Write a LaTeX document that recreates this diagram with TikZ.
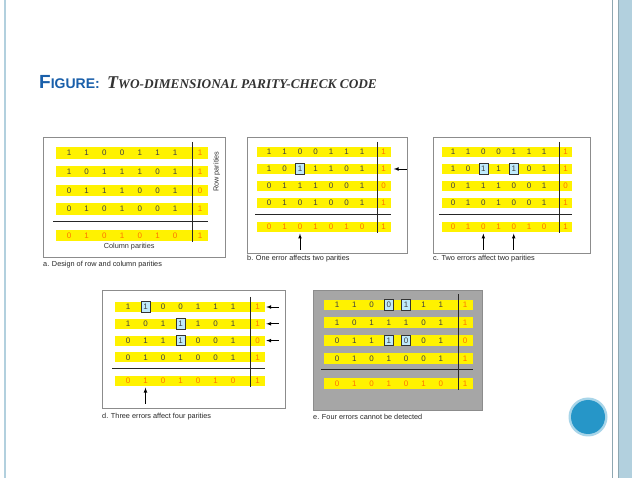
\documentclass[tikz,border=0pt]{standalone}
\usepackage{fontspec}
\setmainfont{Liberation Sans}
\newfontfamily\serifit{Liberation Serif}
\definecolor{band}{RGB}{178,208,222}
\definecolor{dot}{RGB}{38,150,200}
\definecolor{bar}{RGB}{255,242,0}
\begin{document}
\begin{tikzpicture}[x=1pt,y=-1pt,
  bitn/.style={inner sep=0pt,font=\fontsize{8}{9}\selectfont,text=black!75},
  pbitn/.style={bitn,text=orange!90!red},
  hl/.style={draw=black!80,fill=cyan!25,line width=0.7pt,minimum width=9pt,minimum height=10.5pt,inner sep=0pt,font=\fontsize{8}{9}\selectfont,text=black!75},
  captxt/.style={anchor=west,inner sep=0pt,font=\fontsize{7.3}{8}\selectfont,text=black!85},
  panel/.style={draw=black!45,line width=0.6pt},
  arr/.style={-latex,line width=0.7pt}]
\useasboundingbox (0,0) rectangle (638,478);
\fill[white] (0,0) rectangle (638,478);
% frame
\draw[band,line width=1.2pt] (5,0) -- (5,478);
\fill[band] (618,0) rectangle (632,478);
\draw[band!80!black,line width=0.8pt] (612,0) -- (612,478);
\draw[band!80!black,line width=0.6pt] (618,0) -- (618,478);
\fill[dot!40!white] (588,417) circle (19.5);
\fill[dot] (588,417) circle (17);
% title
\node[anchor=base west,inner sep=0pt,text={rgb,255:red,25;green,95;blue,170}] (t1) at (39,89)
  {\bfseries\fontsize{19}{20}\selectfont F\fontsize{14}{15}\selectfont IGURE:};
\node[anchor=base west,inner sep=0pt,text=black!80] (t2) at ([xshift=7pt]t1.base east)
  {\serifit\itshape\bfseries\fontsize{18}{19}\selectfont T\fontsize{13.3}{14}\selectfont WO-DIMENSIONAL PARITY-CHECK CODE};
% macros
\newcommand\bitrow[3]{%
  \fill[bar] (-0.75,#1-0.3) rectangle (7.85,#1+0.3);
  \foreach \b [count=\i from 0] in {#2}{%
    \ifnum\i<7 \node[#3] at (\i,#1) {\b};\else \node[pbitn] at (7.4,#1) {\b};\fi}}
\newcommand\grid{%
  \draw[line width=1pt,black!85] (-0.9,3.65) -- (7.85,3.65);
  \draw[line width=1pt,black!85] (7.0,-0.6) -- (7.0,4.75);}
% panel a
\node[panel,minimum width=182pt,minimum height=120pt,anchor=north west] (pa) at (43,137) {};
\begin{scope}[shift={(69,153)},xscale=17.7,yscale=18.7]
 \bitrow{0}{1,1,0,0,1,1,1,1}{bitn}
 \bitrow{1}{1,0,1,1,1,0,1,1}{bitn}
 \bitrow{2}{0,1,1,1,0,0,1,0}{bitn}
 \bitrow{3}{0,1,0,1,0,0,1,1}{bitn}
 \bitrow{4.4}{0,1,0,1,0,1,0,1}{pbitn}
 \grid
 \node[bitn,rotate=90,text=black!80,font=\fontsize{7.3}{8}\selectfont] (rp) at (8.35,1.0) {Row parities};
 \node[bitn,text=black!80,font=\fontsize{7.3}{8}\selectfont] (cp) at (3.4,5.0) {Column parities};
\end{scope}
\node[captxt] (ca) at (43,265) {a. Design of row and column parities};
% panel b
\node[panel,minimum width=160pt,minimum height=116pt,anchor=north west] (pb) at (247,137) {};
\begin{scope}[shift={(269,152)},xscale=15.5,yscale=17]
 \bitrow{0}{1,1,0,0,1,1,1,1}{bitn}
 \bitrow{1}{1,0,1,1,1,0,1,1}{bitn}
 \bitrow{2}{0,1,1,1,0,0,1,0}{bitn}
 \bitrow{3}{0,1,0,1,0,0,1,1}{bitn}
 \bitrow{4.4}{0,1,0,1,0,1,0,1}{pbitn}
 \grid
 \node[hl] (hb) at (2,1) {1};
 \coordinate (b1) at (8.9,1); \coordinate (b2) at (8.05,1);
 \coordinate (b3) at (2,5.75); \coordinate (b4) at (2,4.8);
 \draw[arr] (b1) -- (b2); \draw[arr] (b3) -- (b4);
\end{scope}
\node[captxt] (cb) at (247,259) {b. One error affects two parities};
% panel c
\node[panel,minimum width=157pt,minimum height=116pt,anchor=north west] (pc) at (433,137) {};
\begin{scope}[shift={(453,152)},xscale=15.2,yscale=17]
 \bitrow{0}{1,1,0,0,1,1,1,1}{bitn}
 \bitrow{1}{1,0,1,1,1,0,1,1}{bitn}
 \bitrow{2}{0,1,1,1,0,0,1,0}{bitn}
 \bitrow{3}{0,1,0,1,0,0,1,1}{bitn}
 \bitrow{4.4}{0,1,0,1,0,1,0,1}{pbitn}
 \grid
 \node[hl] (hc1) at (2,1) {1}; \node[hl] (hc2) at (4,1) {1};
 \coordinate (c1) at (2,5.75); \coordinate (c2) at (2,4.8);
 \coordinate (c3) at (4,5.75); \coordinate (c4) at (4,4.8);
 \draw[arr] (c1) -- (c2); \draw[arr] (c3) -- (c4);
\end{scope}
\node[captxt] (cc) at (433,259) {c. Two errors affect two parities};
% panel d
\node[panel,minimum width=183pt,minimum height=118pt,anchor=north west] (pd) at (102,290) {};
\begin{scope}[shift={(128,307)},xscale=17.5,yscale=16.8]
 \bitrow{0}{1,1,0,0,1,1,1,1}{bitn}
 \bitrow{1}{1,0,1,1,1,0,1,1}{bitn}
 \bitrow{2}{0,1,1,1,0,0,1,0}{bitn}
 \bitrow{3}{0,1,0,1,0,0,1,1}{bitn}
 \bitrow{4.4}{0,1,0,1,0,1,0,1}{pbitn}
 \grid
 \node[hl] (hd1) at (1,0) {1}; \node[hl] (hd2) at (3,1) {1}; \node[hl] (hd3) at (3,2) {1};
 \foreach \r in {0,1,2}{\draw[arr] (8.6,\r) -- (7.9,\r);}
 \coordinate (d1) at (1,5.75); \coordinate (d2) at (1,4.8);
 \draw[arr] (d1) -- (d2);
\end{scope}
\node[captxt] (cd) at (102,417) {d. Three errors affect four parities};
% panel e
\node[panel,fill=black!35,minimum width=169pt,minimum height=120pt,anchor=north west] (pe) at (313,290) {};
\begin{scope}[shift={(337,305)},xscale=17.3,yscale=17.8]
 \bitrow{0}{1,1,0,0,1,1,1,1}{bitn}
 \bitrow{1}{1,0,1,1,1,0,1,1}{bitn}
 \bitrow{2}{0,1,1,1,0,0,1,0}{bitn}
 \bitrow{3}{0,1,0,1,0,0,1,1}{bitn}
 \bitrow{4.4}{0,1,0,1,0,1,0,1}{pbitn}
 \grid
 \node[hl] (he1) at (3,0) {0}; \node[hl] (he2) at (4,0) {1};
 \node[hl] (he3) at (3,2) {1}; \node[hl] (he4) at (4,2) {0};
\end{scope}
\node[captxt] (ce) at (313,417) {e. Four errors cannot be detected};
\end{tikzpicture}
\end{document}
